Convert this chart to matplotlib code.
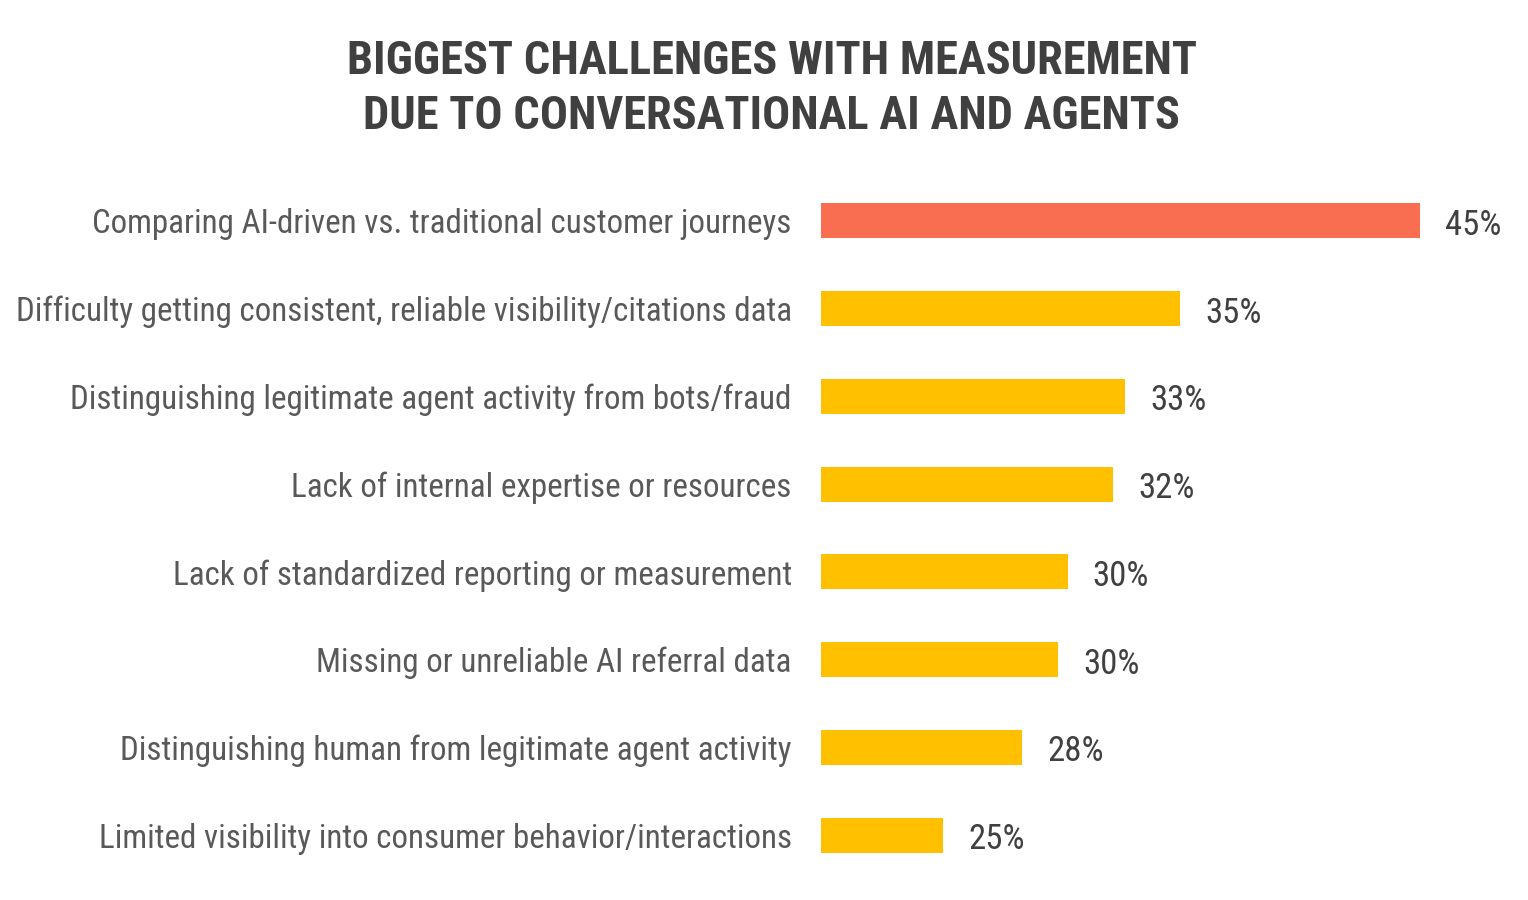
import matplotlib
matplotlib.use("Agg")
import matplotlib.pyplot as plt

categories = [
    "Comparing AI-driven vs. traditional customer journeys",
    "Difficulty getting consistent, reliable visibility/citations data",
    "Distinguishing legitimate agent activity from bots/fraud",
    "Lack of internal expertise or resources",
    "Lack of standardized reporting or measurement",
    "Missing or unreliable AI referral data",
    "Distinguishing human from legitimate agent activity",
    "Limited visibility into consumer behavior/interactions",
]
values = [45.0, 35.0, 32.7, 32.2, 30.3, 29.9, 28.4, 25.1]
value_labels = ["45%", "35%", "33%", "32%", "30%", "30%", "28%", "25%"]
title = "BIGGEST CHALLENGES WITH MEASUREMENT\nDUE TO CONVERSATIONAL AI AND AGENTS"

plt.rcParams["font.family"] = ["Roboto Condensed", "Roboto", "DejaVu Sans"]

highlight = "#F96E50"
base = "#FFC000"
label_color = "#595959"
title_color = "#404040"

fig = plt.figure(figsize=(15.28, 9.0), dpi=100)
ax = fig.add_axes([821 / 1528, 1 - 879 / 900, 1 - 821 / 1528, (879 - 177) / 900])

ypos = list(range(len(categories)))
colors = [highlight] + [base] * (len(categories) - 1)
ax.barh(ypos, values, left=0, height=0.4, color=colors)
ax.set_xlim(20, 20 + 707 / 23.95)
ax.set_ylim(len(categories) - 0.5, -0.5)

for y, v, lab in zip(ypos, values, value_labels):
    ax.text(v + 1.05, y + 0.05, lab, va="center", ha="left", fontsize=25, color=title_color)

ax.set_yticks(ypos)
ax.set_yticklabels(categories, fontsize=23.8, color=label_color)
ax.tick_params(axis="y", length=0, pad=21)
ax.set_xticks([])
for s in ax.spines.values():
    s.set_visible(False)

fig.text(0.505, 0.902, title, ha="center", va="center", fontsize=33.5,
         fontweight="bold", color=title_color, linespacing=1.32)

fig.savefig("out.png", dpi=100)
